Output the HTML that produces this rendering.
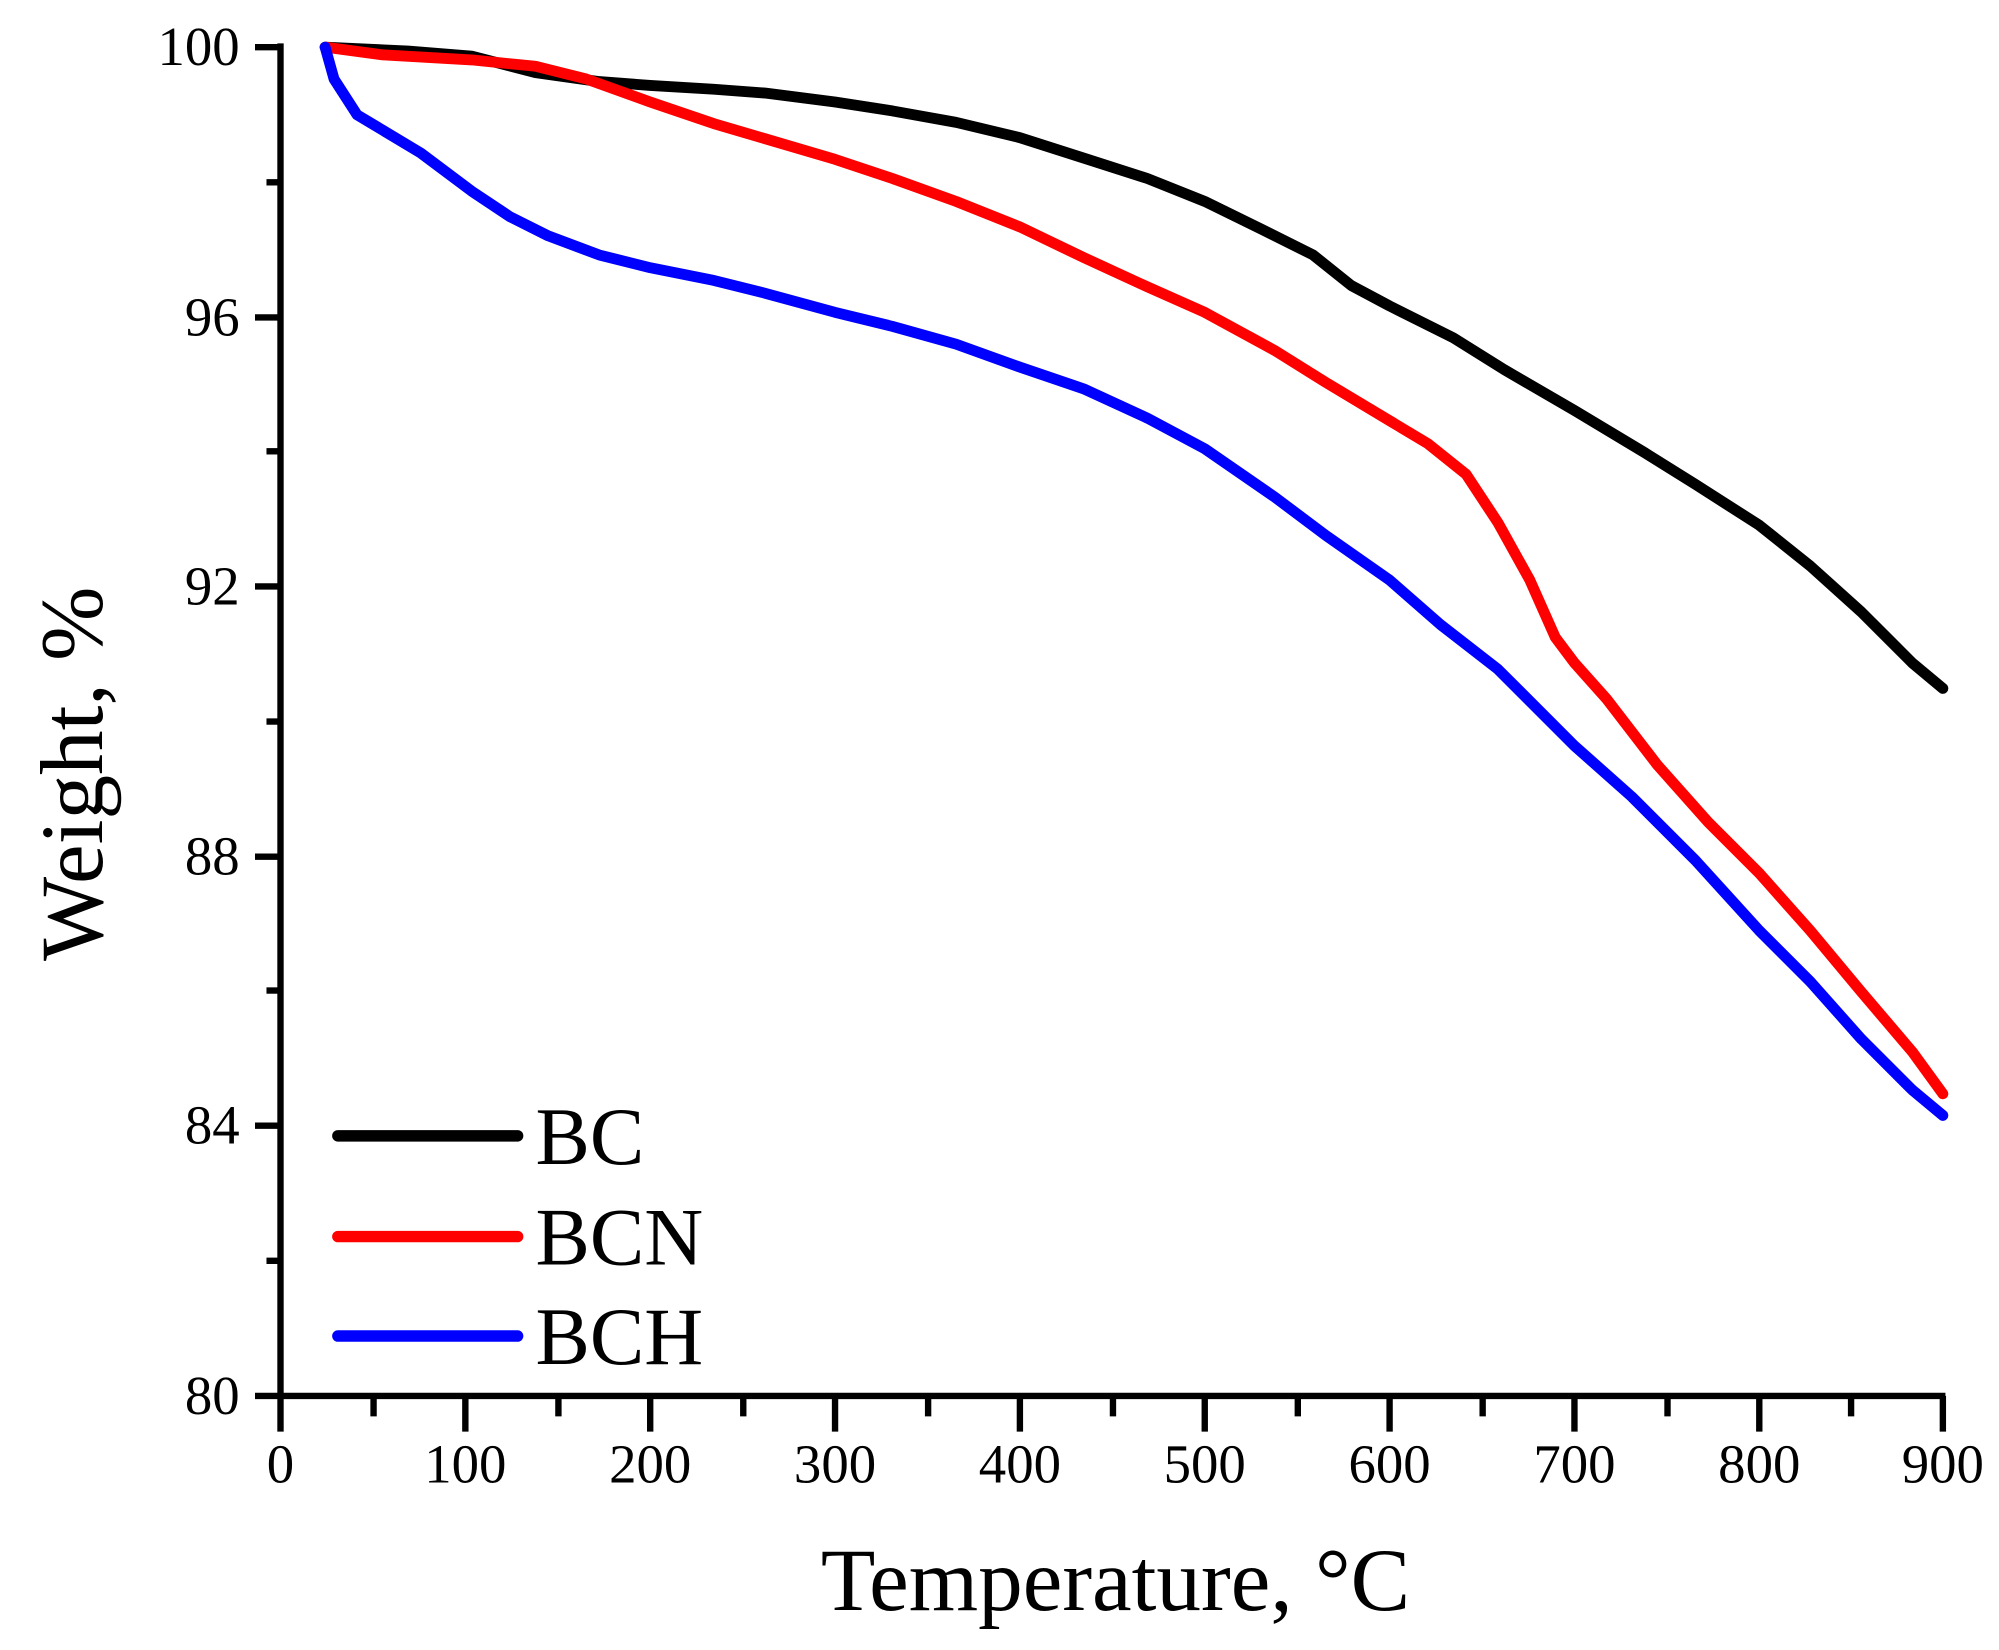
<!DOCTYPE html>
<html><head><meta charset="utf-8"><style>html,body{margin:0;padding:0;background:#fff}svg{display:block}</style></head><body>
<svg width="1999" height="1650" viewBox="0 0 1568 1294.3" xmlns="http://www.w3.org/2000/svg" font-family="Liberation Serif, serif">
<rect width="1568" height="1294.3" fill="#fff"/>
<g stroke="#000" stroke-width="5" fill="none">
<line x1="220" y1="34" x2="220" y2="1097"/>
<line x1="200" y1="1095" x2="1526" y2="1095"/>
<line x1="200" y1="37" x2="220" y2="37"/><line x1="200" y1="249" x2="220" y2="249"/><line x1="200" y1="460" x2="220" y2="460"/><line x1="200" y1="672" x2="220" y2="672"/><line x1="200" y1="883" x2="220" y2="883"/>
<line x1="209" y1="143" x2="220" y2="143"/><line x1="209" y1="354" x2="220" y2="354"/><line x1="209" y1="566" x2="220" y2="566"/><line x1="209" y1="777" x2="220" y2="777"/><line x1="209" y1="989" x2="220" y2="989"/>
<path d="M220 1095v28M365 1095v28M510 1095v28M655 1095v28M800 1095v28M945 1095v28M1090 1095v28M1235 1095v28M1380 1095v28M1524 1095v28"/>
<path d="M293 1095v16M438 1095v16M583 1095v16M728 1095v16M873 1095v16M1018 1095v16M1163 1095v16M1308 1095v16M1452 1095v16"/>
</g>
<g font-size="43" text-anchor="end">
<text x="188" y="51">100</text><text x="188" y="263">96</text><text x="188" y="474">92</text><text x="188" y="686">88</text><text x="188" y="897">84</text><text x="188" y="1109">80</text>
</g>
<g font-size="43" text-anchor="middle">
<text x="220" y="1163">0</text><text x="365" y="1163">100</text><text x="510" y="1163">200</text><text x="655" y="1163">300</text><text x="800" y="1163">400</text><text x="945" y="1163">500</text><text x="1090" y="1163">600</text><text x="1235" y="1163">700</text><text x="1380" y="1163">800</text><text x="1524" y="1163">900</text>
</g>
<text x="875" y="1263" font-size="70" text-anchor="middle">Temperature, °C</text>
<text transform="translate(80,607) rotate(-90)" font-size="70" text-anchor="middle">Weight, %</text>
<g fill="none" stroke-width="8.5" stroke-linejoin="round" stroke-linecap="round">
<polyline stroke="#000" points="255,37 320,40 370,44 420,57 470,64 510,67 560,70 600,73 655,80 700,87 750,96 800,108 850,124 900,140 945,158 990,180 1030,200 1060,224 1090,240 1140,265 1180,290 1235,322 1290,355 1330,380 1380,412 1420,444 1460,480 1500,520 1524,540"/>
<polyline stroke="#f00" points="255,37 300,43 370,47 420,52 460,62 510,80 560,97 655,125 700,140 750,158 800,178 850,202 900,225 945,245 1000,275 1040,300 1090,330 1120,348 1150,372 1175,410 1200,455 1220,500 1235,520 1260,548 1300,600 1340,645 1380,685 1420,730 1460,778 1500,825 1524,858"/>
<polyline stroke="#00f" points="255,37 262,62 280,90 300,102 330,120 370,150 400,170 430,185 470,200 510,210 560,220 600,230 655,245 700,256 750,270 800,288 850,305 900,328 945,352 1000,390 1040,420 1090,455 1130,490 1175,525 1235,585 1280,625 1330,675 1380,730 1420,770 1460,815 1500,855 1524,875"/>
<g stroke-width="9">
<line stroke="#000" x1="265" y1="891" x2="406" y2="891"/>
<line stroke="#f00" x1="265" y1="970" x2="406" y2="970"/>
<line stroke="#00f" x1="265" y1="1048" x2="406" y2="1048"/>
</g>
</g>
<g font-size="64">
<text x="420" y="913">BC</text><text x="420" y="992">BCN</text><text x="420" y="1070">BCH</text>
</g>
</svg>
</body></html>
